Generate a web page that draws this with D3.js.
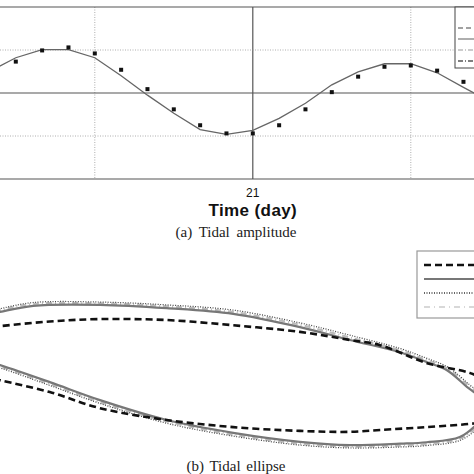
<!DOCTYPE html>
<html><head><meta charset="utf-8">
<script src="https://cdn.jsdelivr.net/npm/d3@7"></script>
<style>body{margin:0;background:#fff}svg{display:block}</style>
</head><body>
<svg id="c" width="474" height="474"></svg>
<script>
// ---- Panel (a): tidal amplitude ----
const obsHours = [15,16,17,18,19,20,21,22,23,24,25,26,27,28,29,30,31,32]; // hours since day 20
const obsValues = [0.73,0.99,1.06,0.92,0.54,0.09,-0.38,-0.75,-0.94,-0.94,-0.75,-0.38,0.02,0.38,0.61,0.64,0.52,0.26];
const modelHours = [14,15,16,17,18,19,20,21,22,23,24,25,26,27,28,29,30,31,32,33];
const modelValues = [0.5,0.82,1.01,1.01,0.82,0.40,-0.05,-0.47,-0.85,-0.96,-0.87,-0.59,-0.24,0.19,0.49,0.68,0.68,0.47,0.13,-0.2];
const xTickLabels = [21];
const xGrid = [20.75,21,21.25];
const yGrid = [-1,0,1];

// ---- Panel (b): tidal ellipse (u, v) ----
const ellSolidU = [-62.7,-56.3,-50,-43,-28.9,-14.8,-0.8,13.3,23.8,34.4,40.1,44.3,48.5,51,53,51,47,40,34.4,23.8,13.3,-0.8,-14.8,-28.9,-39.5,-50,-56.3];
const ellSolidV = [7.8,11.8,13.3,14.6,14.8,14.1,12.9,10.1,7.4,4.8,2.7,1.0,-2.5,-4.5,-7.4,-10.0,-13.1,-14.2,-14.5,-14.8,-14.1,-12.2,-9.5,-5.3,-1.5,2.1,4.0];
const ellDashU = [-64.8,-56.3,-50,-39.5,-28.9,-14.8,-0.8,13.3,23.8,30.2,40.1,49.2,54.4,58.6,54.4,49.2,40,30.2,23.8,13.3,-0.8,-14.8,-28.9,-39.5,-50,-56.3];
const ellDashV = [4.9,9.5,10.3,11.3,11.8,11.6,10.5,9.1,7.4,6.3,2.5,0.4,-2.1,-5.7,-9.5,-10.3,-11.0,-11.6,-12,-11.8,-11,-9.5,-7,-3.6,-1.1,0.4];
const ellDotU = [-63.5,-56.5,-50,-43,-28.9,-14.8,-0.8,13.3,23.8,34.4,40.1,44.6,49,51.6,53.8,51.6,47.3,40,34.4,23.8,13.3,-0.8,-14.8,-28.9,-39.5,-50,-56.5];
const ellDotV = [7.8,12.5,14.0,15.3,15.4,14.8,13.7,11.0,8.4,5.6,3.5,1.6,-2.0,-4.2,-7.4,-10.4,-13.7,-14.9,-15.2,-15.4,-14.8,-12.9,-10.2,-6.0,-2.2,1.5,3.4];
const ellDDU = [-63.1,-56.4,-50,-43,-28.9,-14.8,-0.8,13.3,23.8,34.4,40.1,44.5,48.8,51.3,53.4,51.3,47.1,40,34.4,23.8,13.3,-0.8,-14.8,-28.9,-39.5,-50,-56.4];
const ellDDV = [7.8,12.2,13.7,15.0,15.1,14.5,13.3,10.6,7.9,5.2,3.1,1.3,-2.2,-4.3,-7.4,-10.2,-13.4,-14.6,-14.9,-15.1,-14.5,-12.6,-9.8,-5.7,-1.9,1.8,3.7];

const svg = d3.select("#c");

// ===== Panel (a) =====
const x = d3.scaleLinear().domain([20.6, 21.35]).range([0, 474]);
const y = d3.scaleLinear().domain([-2, 2]).range([179, 7]);
const gA = svg.append("g");

gA.selectAll(".vg").data(xGrid).join("line")
  .attr("x1", d => x(d)).attr("x2", d => x(d)).attr("y1", y(2)).attr("y2", y(-2))
  .attr("stroke", d => d === 21 ? "#555" : "#999")
  .attr("stroke-width", d => d === 21 ? 1.2 : 0.8)
  .attr("stroke-dasharray", d => d === 21 ? null : "1,1.5");
gA.selectAll(".hg").data(yGrid).join("line")
  .attr("x1", 0).attr("x2", 474).attr("y1", d => y(d)).attr("y2", d => y(d))
  .attr("stroke", d => d === 0 ? "#555" : "#999")
  .attr("stroke-width", d => d === 0 ? 1.2 : 0.8)
  .attr("stroke-dasharray", d => d === 0 ? null : "1,1.5");
gA.append("line").attr("x1",0).attr("x2",474).attr("y1",y(2)).attr("y2",y(2)).attr("stroke","#555").attr("stroke-width",1.2);
gA.append("line").attr("x1",0).attr("x2",474).attr("y1",y(-2)).attr("y2",y(-2)).attr("stroke","#555").attr("stroke-width",1.2);

const modelData = modelHours.map((h,i) => ({t: 20 + h/24, v: modelValues[i]}));
gA.append("path").datum(modelData)
  .attr("fill","none").attr("stroke","#666").attr("stroke-width",1.3)
  .attr("d", d3.line().x(d => x(d.t)).y(d => y(d.v)));
const obsData = obsHours.map((h,i) => ({t: 20 + h/24, v: obsValues[i]}));
gA.selectAll(".obs").data(obsData).join("rect")
  .attr("x", d => x(d.t) - 2).attr("y", d => y(d.v) - 2)
  .attr("width", 4).attr("height", 4).attr("fill", "#111");

gA.selectAll(".xt").data(xTickLabels).join("text")
  .attr("x", d => x(d)).attr("y", 197).attr("text-anchor","middle")
  .attr("font-family","Liberation Sans, Arial, sans-serif").attr("font-size",12).attr("fill","#111")
  .text(d => d);
gA.append("text").attr("x", x(21)).attr("y", 216).attr("text-anchor","middle")
  .attr("font-family","Liberation Sans, Arial, sans-serif").attr("font-weight","bold").attr("font-size",17)
  .attr("letter-spacing",0.4).attr("fill","#111")
  .text("Time (day)");
gA.append("text").attr("x", 236).attr("y", 237).attr("text-anchor","middle")
  .attr("font-family","Liberation Serif, serif").attr("font-size",15).attr("fill","#222")
  .attr("word-spacing", 3)
  .text("(a) Tidal amplitude");

const legA = gA.append("g");
legA.append("rect").attr("x",455).attr("y",7).attr("width",30).attr("height",61)
  .attr("fill","#fff").attr("stroke","#444").attr("stroke-width",1);
const legAStyles = [
  {c:"#444", d:"5,3", w:1.2},
  {c:"#777", d:null, w:1.2},
  {c:"#999", d:"5,2,1,2", w:1.2},
  {c:"#555", d:"5,2,1,2", w:1.5}
];
const legAY = [28,39,50,61];
legA.selectAll(".l").data(legAStyles).join("line")
  .attr("x1",458).attr("x2",480).attr("y1",(d,i)=>legAY[i]).attr("y2",(d,i)=>legAY[i])
  .attr("stroke",d=>d.c).attr("stroke-width",d=>d.w).attr("stroke-dasharray",d=>d.d);

// ===== Panel (b) =====
const u = d3.scaleLinear().domain([-50, 50]).range([0, 474]);
const v = d3.scaleLinear().domain([-16, 16]).range([450.8, 299.2]);
const gB = svg.append("g");
const closed = d3.line().x(d => u(d[0])).y(d => v(d[1])).curve(d3.curveCatmullRomClosed.alpha(0.5));
const zip = (a,b) => a.map((d,i) => [d, b[i]]);

const ellipses = [
  {u: ellDDU, v: ellDDV, c:"#bbb", w:2.2, d:"6,3,1,3"},
  {u: ellDotU, v: ellDotV, c:"#444", w:1.2, d:"1,1.5"},
  {u: ellSolidU, v: ellSolidV, c:"#777", w:2.2, d:null},
  {u: ellDashU, v: ellDashV, c:"#111", w:2.6, d:"7,4"}
];
gB.selectAll(".ell").data(ellipses).join("path")
  .attr("d", e => closed(zip(e.u, e.v)))
  .attr("fill","none").attr("stroke", e => e.c).attr("stroke-width", e => e.w)
  .attr("stroke-dasharray", e => e.d);

const legB = gB.append("g");
legB.append("rect").attr("x",417).attr("y",251).attr("width",70).attr("height",67)
  .attr("fill","#fff").attr("stroke","#999").attr("stroke-width",1.2);
const legBStyles = [
  {c:"#111", d:"7,4", w:2.4},
  {c:"#777", d:null, w:2},
  {c:"#333", d:"1,1.5", w:1.3},
  {c:"#ccc", d:"6,4,1,4", w:1.6}
];
const legBY = [265,279,293,307];
legB.selectAll(".l").data(legBStyles).join("line")
  .attr("x1",424).attr("x2",480).attr("y1",(d,i)=>legBY[i]).attr("y2",(d,i)=>legBY[i])
  .attr("stroke",d=>d.c).attr("stroke-width",d=>d.w).attr("stroke-dasharray",d=>d.d);

gB.append("text").attr("x", 236).attr("y", 471).attr("text-anchor","middle")
  .attr("font-family","Liberation Serif, serif").attr("font-size",15).attr("fill","#222")
  .attr("word-spacing", 2)
  .text("(b) Tidal ellipse");
</script>
</body></html>
